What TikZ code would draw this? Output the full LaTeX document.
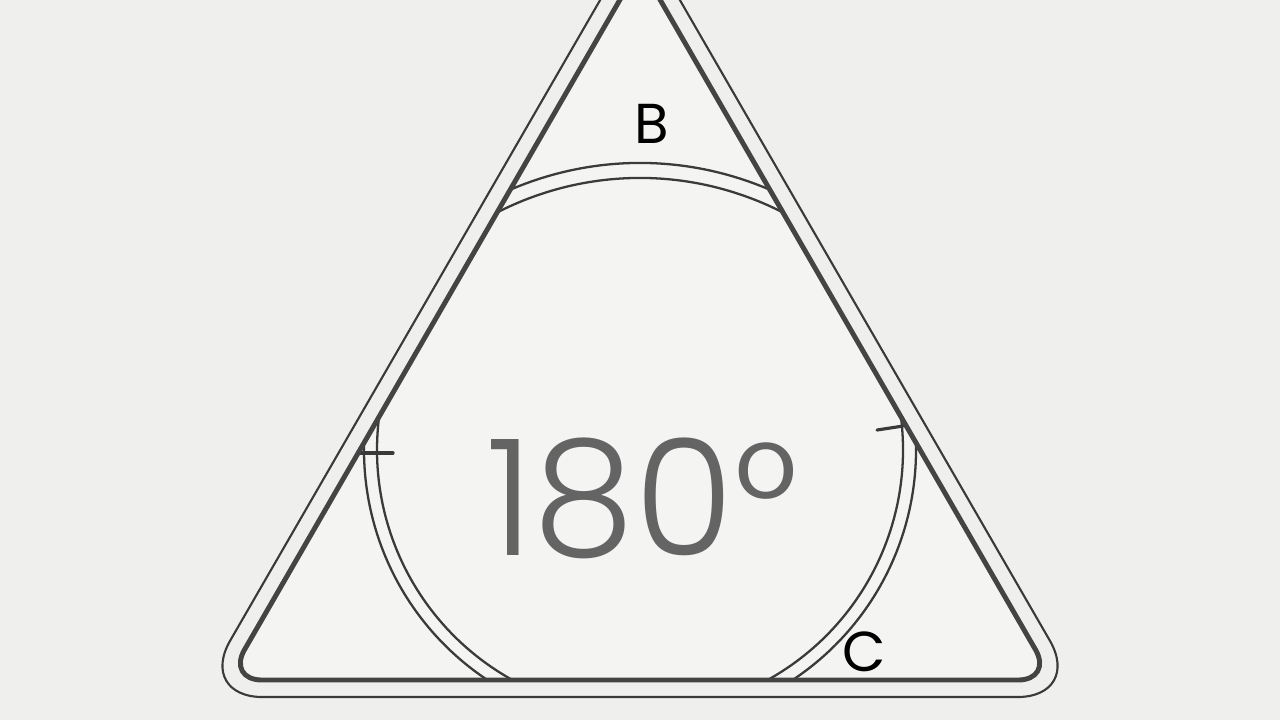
\documentclass[tikz,border=0pt]{standalone}
\usepackage{fontspec}
\setmainfont{Poppins}
\newfontfamily\numfont{Poppins Light}
\definecolor{bgcol}{RGB}{239,239,237}
\definecolor{incol}{RGB}{244,244,243}
\definecolor{tricol}{RGB}{68,68,68}
\definecolor{edgecol}{RGB}{58,58,58}
\definecolor{numcol}{RGB}{100,100,100}
\begin{document}
\begin{tikzpicture}[x=0.01cm, y=-0.01cm]
\tikzstyle{tri_inner} = [draw=tricol, line width=1.4pt, rounded corners=0.35cm]
\tikzstyle{tri_outer} = [draw=edgecol, line width=0.6pt, rounded corners=0.65cm]
\tikzstyle{arc_style} = [draw=edgecol, line width=0.65pt]
\tikzstyle{tick_style} = [draw=edgecol, line width=0.9pt, line cap=round]
\tikzstyle{letter_style} = [text=black, font=\fontsize{16}{16}\selectfont, anchor=base]
    \useasboundingbox (0,0) rectangle (1280,720);
    \fill[bgcol] (0,0) rectangle (1280,720);

    \coordinate (t1) at (640,-35);
    \coordinate (t2) at (227,680);
    \coordinate (t3) at (1053,680);
    \coordinate (o1) at (640,-69);
    \coordinate (o2) at (197.6,697);
    \coordinate (o3) at (1082.4,697);
    \coordinate (c) at (640,450);
    \coordinate (cb) at (640,491.6);

    \fill[incol, rounded corners=0.35cm] (t1) -- (t2) -- (t3) -- cycle;

    \begin{scope}
    \clip (t1) -- (t2) -- (t3) -- cycle;
    \draw[arc_style] (c) ++(200:263) arc[start angle=200, end angle=100, radius=263];
    \draw[arc_style] (c) ++(200:276) arc[start angle=200, end angle=100, radius=276];
    \draw[arc_style] (c) ++(-20:263) arc[start angle=-20, end angle=80, radius=263];
    \draw[arc_style] (c) ++(-20:276) arc[start angle=-20, end angle=80, radius=276];
    \draw[arc_style] (cb) ++(200:313.6) arc[start angle=200, end angle=340, radius=313.6];
    \draw[arc_style] (cb) ++(200:328.6) arc[start angle=200, end angle=340, radius=328.6];
    \end{scope}

    \coordinate (ta1) at (358,453);
    \coordinate (ta2) at (393,453);
    \coordinate (tc1) at (877,430);
    \coordinate (tc2) at (903,426);
    \draw[tick_style] (ta1) -- (ta2);
    \draw[tick_style] (tc1) -- (tc2);

    \draw[tri_outer] (o1) -- (o2) -- (o3) -- cycle;
    \draw[tri_inner] (t1) -- (t2) -- (t3) -- cycle;

    \node[letter_style] (labelB) at (652,143) {B};
    \node[letter_style] (labelC) at (864,671) {C};
    \node[text=numcol, font=\numfont\fontsize{46}{46}\selectfont, anchor=base] (sumtext) at (642,555) {180°};
\end{tikzpicture}
\end{document}
